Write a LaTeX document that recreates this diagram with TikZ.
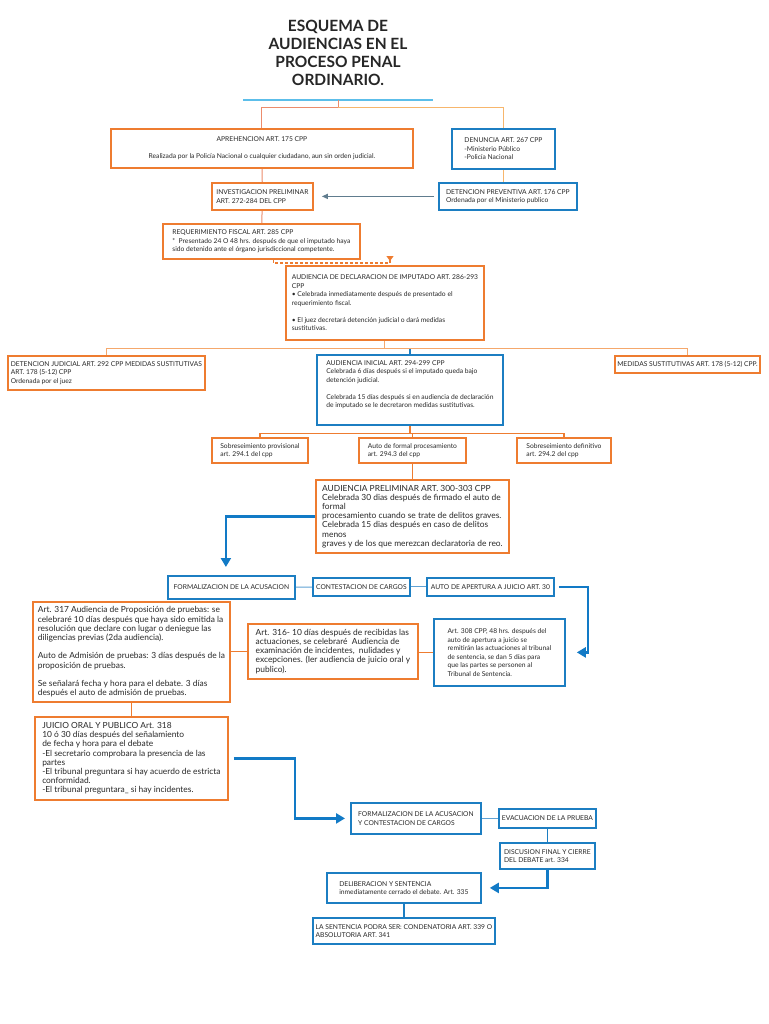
\documentclass[tikz,border=0pt]{standalone}
\usepackage{fontspec}
\setmainfont{Lato}
\usepackage{tikz}
\usetikzlibrary{arrows.meta}

\definecolor{boxorange}{RGB}{238,124,48}
\definecolor{boxblue}{RGB}{28,126,194}
\definecolor{arrowblue}{RGB}{18,122,198}
\definecolor{barblue}{RGB}{92,190,234}
\definecolor{salmonline}{RGB}{236,140,108}
\definecolor{amberline}{RGB}{247,182,108}
\definecolor{paleorange}{RGB}{245,168,108}
\definecolor{paleblue}{RGB}{96,162,212}
\definecolor{arrowgray}{RGB}{96,124,142}
\definecolor{txtgray}{RGB}{40,40,40}

\newcommand{\smalltxt}{\fontsize{6.7}{8.5}\selectfont}
\newcommand{\bigtxt}{\fontsize{8.4}{9.2}\selectfont}
\newcommand{\titletxt}{\fontsize{15.5}{18}\selectfont\bfseries}

\tikzset{
  obox/.style={draw=boxorange, line width=1.8pt, rectangle, anchor=north west, inner xsep=2pt, inner ysep=0pt, align=left, font=\smalltxt, text=txtgray},
  bbox/.style={obox, draw=boxblue},
  olink/.style={draw=boxorange, line width=1.2pt},
  salmonlink/.style={draw=salmonline, line width=1pt},
  amberlink/.style={draw=amberline, line width=1pt},
  palelink/.style={draw=paleorange, line width=1.1pt},
  blink/.style={draw=boxblue, line width=1.2pt},
  lblink/.style={draw=paleblue, line width=1.1pt},
  grayarrow/.style={draw=arrowgray, line width=1.4pt, -{Triangle[length=6pt,width=5pt]}},
  bigarrow/.style={draw=arrowblue, line width=2.4pt, -{Triangle[length=9pt,width=10pt]}},
  dashlink/.style={draw=boxorange, line width=1.3pt, dash pattern=on 3pt off 2pt, -{Triangle[reversed,length=5pt,width=7pt]}}
}

\begin{document}
\begin{tikzpicture}[x=1pt,y=-1pt]
	\useasboundingbox (0,0) rectangle (768,1024);
	\fill[white] (0,0) rectangle (768,1024);

	\node[align=center, font=\titletxt, text=black!85] (title) at (338,53) {ESQUEMA DE\\AUDIENCIAS EN EL\\PROCESO PENAL\\ORDINARIO.};
	\draw[barblue, line width=2.6pt] (243,100) -- (433,100);
	\coordinate (bar) at (338,100);

	\node[obox, align=center, minimum width=302pt, minimum height=39pt] (aprehension) at (110,128) {APREHENCION ART. 175 CPP\\[8.5pt]Realizada por la Policía Nacional o cualquier ciudadano, aun sin orden judicial.};
	\node[bbox, minimum width=103pt, minimum height=40pt] (denuncia) at (451,128) {DENUNCIA ART. 267 CPP\\-Ministerio Público\\-Policía Nacional};
	\node[obox, minimum width=101pt, minimum height=27pt] (investigacion) at (211,182) {INVESTIGACION PRELIMINAR\\ART. 272-284 DEL CPP};
	\node[bbox, minimum width=138pt, minimum height=27pt] (detprev) at (438,182) {DETENCION PREVENTIVA ART. 176 CPP\\Ordenada por el Ministerio publico};
	\node[obox, minimum width=197pt, minimum height=35pt] (requerimiento) at (162,223) {REQUERIMIENTO FISCAL ART. 285 CPP\\*\ \ Presentado 24 O 48 hrs. después de que el imputado haya\\sido detenido ante el órgano jurisdiccional competente.};
	\node[obox, minimum width=198pt, minimum height=74pt] (declaracion) at (285,265) {AUDIENCIA DE DECLARACION DE IMPUTADO ART. 286-293\\CPP\\• Celebrada inmediatamente después de presentado el\\requerimiento fiscal.\\[8.5pt]• El juez decretará detención judicial o dará medidas\\sustitutivas.};

	\node[obox, minimum width=197pt, minimum height=34pt] (detjudicial) at (7,355) {DETENCION JUDICIAL ART. 292 CPP MEDIDAS SUSTITUTIVAS\\ART. 178 (5-12) CPP\\Ordenada por el juez};
	\node[bbox, minimum width=186pt, minimum height=70pt] (inicial) at (316,354) {AUDIENCIA INICIAL ART. 294-299 CPP\\Celebrada 6 días después si el imputado queda bajo\\detención judicial.\\[8.5pt]Celebrada 15 días después si en audiencia de declaración\\de imputado se le decretaron medidas sustitutivas.\\[3.5pt]\mbox{}};
	\node[obox, minimum width=145pt, minimum height=17pt] (medidas) at (614,355) {MEDIDAS SUSTITUTIVAS ART. 178 (5-12) CPP.};

	\node[obox, minimum width=96pt, minimum height=25pt] (sobreprov) at (211,437) {Sobreseimiento provisional\\art. 294.1 del cpp};
	\node[obox, minimum width=107pt, minimum height=25pt] (autoformal) at (358,437) {Auto de formal procesamiento\\art. 294.3 del cpp};
	\node[obox, minimum width=94pt, minimum height=25pt] (sobredef) at (516,437) {Sobreseimiento definitivo\\art. 294.2 del cpp};

	\node[obox, font=\bigtxt, minimum width=193pt, minimum height=73pt] (preliminar) at (315,479) {AUDIENCIA PRELIMINAR ART. 300-303 CPP\\Celebrada 30 dias después de firmado el auto de\\formal\\procesamiento cuando se trate de delitos graves.\\Celebrada 15 dias después en caso de delitos\\menos\\graves y de los que merezcan declaratoria de reo.};

	\node[bbox, align=center, minimum width=127pt, minimum height=23pt] (formalizacion) at (167,575) {FORMALIZACION DE LA ACUSACION};
	\node[bbox, align=center, minimum width=97pt, minimum height=18pt] (contestacion) at (312,577) {CONTESTACION DE CARGOS};
	\node[bbox, align=center, minimum width=127pt, minimum height=18pt] (apertura) at (426,577) {AUTO DE APERTURA A JUICIO ART. 30};

	\node[bbox, minimum width=131pt, minimum height=67pt] (art308) at (433,618) {Art. 308 CPP, 48 hrs. después del\\auto de apertura a juicio se\\remitirán las actuaciones al tribunal\\de sentencia, se dan 5 días para\\que las partes se personen al\\Tribunal de Sentencia.};
	\node[obox, font=\bigtxt, minimum width=170pt, minimum height=55pt] (art316) at (247,623) {Art. 316- 10 días después de recibidas las\\actuaciones, se celebraré\ \ Audiencia de\\examinación de incidentes,\ \ nulidades y\\excepciones. (Ier audiencia de juicio oral y\\publico).};
	\node[obox, font=\bigtxt, minimum width=197pt, minimum height=100pt] (art317) at (32,601) {Art. 317 Audiencia de Proposición de pruebas: se\\celebraré 10 días después que haya sido emitida la\\resolución que declare con lugar o deniegue las\\diligencias previas (2da audiencia).\\[9.2pt]Auto de Admisión de pruebas: 3 días después de la\\proposición de pruebas.\\[9.2pt]Se señalará fecha y hora para el debate. 3 días\\después el auto de admisión de pruebas.};
	\node[obox, font=\bigtxt, minimum width=193pt, minimum height=83pt] (juicio) at (34,716) {JUICIO ORAL Y PUBLICO Art. 318\\10 ó 30 días después del señalamiento\\de fecha y hora para el debate\\-El secretario comprobara la presencia de las\\partes\\-El tribunal preguntara si hay acuerdo de estricta\\conformidad.\\-El tribunal preguntara\_ si hay incidentes.};

	\node[bbox, minimum width=130pt, minimum height=31pt] (formcontest) at (350,802) {FORMALIZACION DE LA ACUSACION\\Y CONTESTACION DE CARGOS};
	\node[bbox, align=center, minimum width=97pt, minimum height=19pt] (evacuacion) at (498,808) {EVACUACION DE LA PRUEBA};
	\node[bbox, minimum width=95pt, minimum height=26pt] (discusion) at (499,842) {DISCUSION FINAL Y CIERRE\\DEL DEBATE art. 334};
	\node[bbox, minimum width=154pt, minimum height=30pt] (deliberacion) at (326,872) {DELIBERACION Y SENTENCIA\\inmediatamente cerrado el debate. Art. 335};
	\node[bbox, minimum width=182pt, minimum height=26pt] (sentencia) at (312,917) {LA SENTENCIA PODRA SER: CONDENATORIA ART. 339 O\\ABSOLUTORIA ART. 341};

	\draw[salmonlink] (bar) -- ++(0,8) -| (aprehension.north);
	\draw[amberlink] ([yshift=-8pt]bar) -| (denuncia.north);
	\draw[salmonlink] (aprehension) -- (investigacion);
	\draw[amberlink] (denuncia.south) -- (denuncia.south |- detprev.north);
	\draw[grayarrow, shorten <=4pt] (detprev.west) -- ([xshift=8pt]investigacion.east |- detprev.west);
	\draw[salmonlink] (investigacion) -- (requerimiento);
	\coordinate (dashtip) at (390,256);
	\draw[dashlink] ([xshift=12pt]requerimiento.south) |- ([yshift=-7pt]dashtip) -- (dashtip);

	\draw[palelink] (declaracion.south) -- ++(0,8) coordinate (split);
	\draw[palelink] (detjudicial.north) |- (split) -| (medidas.north);
	\draw[blink] (inicial.north) -- (inicial.north |- split);

	\draw[olink] (inicial.south) -- ++(0,8) coordinate (split2);
	\draw[olink] (sobreprov.north) |- (split2) -| (sobredef.north);
	\draw[olink] (autoformal.north) -- (autoformal.north |- split2);
	\draw[olink] (autoformal) -- (preliminar);

	\draw[bigarrow] (preliminar.west) -| ([xshift=-5.5pt,yshift=8pt]formalizacion.north);
	\draw[lblink] (formalizacion) -- (contestacion);
	\draw[lblink] (contestacion) -- (apertura);
	\draw[bigarrow] ([xshift=4pt]apertura.east) -- ++(29,0) |- ([xshift=11pt]art308.east);
	\draw[olink] (art308.west) -- (art308.west -| art316.east);
	\draw[olink] (art316.west) -- (art316.west -| art317.east);
	\draw[olink] (art317) -- (juicio);
	\draw[bigarrow] ([xshift=5pt]juicio.east) -- ++(61,0) |- ([xshift=-5pt]formcontest.west);
	\draw[lblink] (formcontest) -- (evacuacion);
	\draw[blink] (evacuacion) -- (discusion);
	\draw[bigarrow] (discusion.south) |- ([xshift=8pt]deliberacion.east);
	\draw[blink] (deliberacion) -- (sentencia);
\end{tikzpicture}
\end{document}
